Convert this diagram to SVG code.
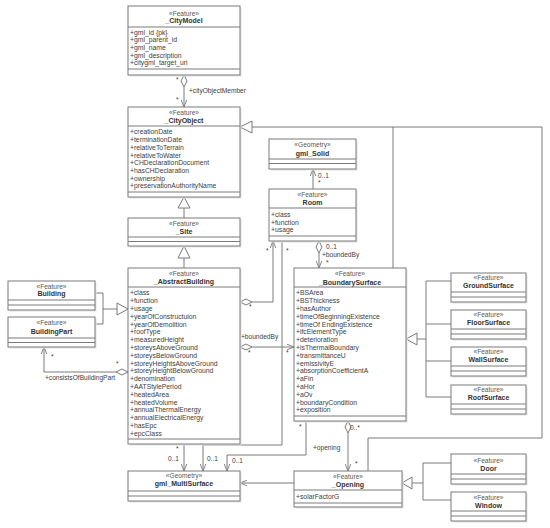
<svg xmlns="http://www.w3.org/2000/svg" width="550" height="528" viewBox="0 0 550 528">
<defs>
<style>
.bx{fill:#fff;stroke:#7a7a7a;stroke-width:1}
.sh{fill:#e4e4e4;stroke:none}
.dv{stroke:#7a7a7a;stroke-width:1}
.ln{fill:none;stroke:#7a7a7a;stroke-width:1}
.hd{fill:#fff;stroke:#7a7a7a;stroke-width:1}
text{font-family:"Liberation Sans",Arial,sans-serif;fill:#404040}
.st{font-size:6.6px;text-anchor:middle;fill:#595959}
.nm{font-size:7px;font-weight:bold;text-anchor:middle;fill:#333}
.at{font-size:6.8px}
.lb{font-size:6.6px}
</style>
<marker id="ar" viewBox="0 0 10 10" refX="10" refY="5" markerWidth="7" markerHeight="7" orient="auto" markerUnits="userSpaceOnUse">
<path d="M0,1 L10,5 L0,9" fill="none" stroke="#7a7a7a" stroke-width="1.3"/>
</marker>
</defs>
<rect width="550" height="528" fill="#fff"/>

<g id="connectors">
<polygon class="hd" points="184,75 187,81 184,87 181,81"/>
<line class="ln" x1="184" y1="87" x2="184" y2="107" marker-end="url(#ar)"/>
<text class="lb" x="176" y="82">*</text>
<text class="lb" x="189" y="93">+cityObjectMember</text>
<text class="lb" x="176" y="102">*</text>
<line class="ln" x1="184" y1="208" x2="184" y2="218"/>
<polygon class="hd" points="184,197 190,208 178,208"/>
<line class="ln" x1="184" y1="258" x2="184" y2="268"/>
<polygon class="hd" points="184,246 190,258 178,258"/>
<polyline class="ln" points="95,293 103,293 103,324 95,324"/>
<line class="ln" x1="103" y1="309" x2="117" y2="309"/>
<polygon class="hd" points="128,309 117,303 117,315"/>
<polygon class="hd" points="128,372 122,369 116,372 122,375"/>
<polyline class="ln" points="116,372 44,372 44,347" marker-end="url(#ar)"/>
<text class="lb" x="51" y="359">*</text>
<text class="lb" x="116" y="366">*</text>
<text class="lb" x="45" y="380">+consistsOfBuildingPart</text>
<polygon class="hd" points="240,302 246,299 252,302 246,305"/>
<polyline class="ln" points="252,302 273,302 273,241" marker-end="url(#ar)"/>
<text class="lb" x="249" y="309">*</text>
<text class="lb" x="266" y="253">*</text>
<polyline class="ln" points="282,241 282,445 203,445 203,471" marker-end="url(#ar)"/>
<text class="lb" x="286" y="253">*</text>
<text class="lb" x="207" y="461">0..1</text>
<polyline class="ln" points="306,421 306,455 227,455 227,471" marker-end="url(#ar)"/>
<text class="lb" x="299" y="429">*</text>
<text class="lb" x="232" y="463">0..1</text>
<line class="ln" x1="184" y1="444" x2="184" y2="471" marker-end="url(#ar)"/>
<text class="lb" x="176" y="451">*</text>
<text class="lb" x="168" y="461">0..1</text>
<polygon class="hd" points="240,347 246,344 252,347 246,350"/>
<line class="ln" x1="252" y1="347" x2="294" y2="347" marker-end="url(#ar)"/>
<text class="lb" x="241" y="339">+boundedBy</text>
<text class="lb" x="248" y="355">*</text>
<text class="lb" x="286" y="355">*</text>
<line class="ln" x1="313" y1="189" x2="313" y2="169" marker-end="url(#ar)"/>
<text class="lb" x="318" y="178">0..1</text>
<text class="lb" x="318" y="185">*</text>
<polygon class="hd" points="319,241 322,247 319,253 316,247"/>
<line class="ln" x1="319" y1="253" x2="319" y2="268" marker-end="url(#ar)"/>
<text class="lb" x="326" y="249">0..1</text>
<text class="lb" x="322" y="257">+boundedBy</text>
<text class="lb" x="326" y="265">*</text>
<line class="ln" x1="393" y1="268" x2="393" y2="127"/>
<line class="ln" x1="252" y1="127" x2="542" y2="127"/>
<polyline class="ln" points="368,471 368,438 542,438 542,127"/>
<polygon class="hd" points="240,127 252,121 252,133"/>
<polyline class="ln" points="451,281 426,281 426,397 451,397"/>
<line class="ln" x1="426" y1="324" x2="451" y2="324"/>
<line class="ln" x1="426" y1="361" x2="451" y2="361"/>
<line class="ln" x1="417" y1="339" x2="426" y2="339"/>
<polygon class="hd" points="406,339 417,333 417,345"/>
<polygon class="hd" points="348,421 351,427 348,433 345,427"/>
<line class="ln" x1="348" y1="433" x2="348" y2="471" marker-end="url(#ar)"/>
<text class="lb" x="350" y="430">0..*</text>
<text class="lb" x="313" y="450">+opening</text>
<text class="lb" x="355" y="466">*</text>
<line class="ln" x1="294" y1="483" x2="240" y2="483" marker-end="url(#ar)"/>
<polyline class="ln" points="451,463 423,463 423,500 451,500"/>
<line class="ln" x1="412" y1="483" x2="423" y2="483"/>
<polygon class="hd" points="402,483 412,477 412,489"/>
</g>

<g id="CityModel">
<rect class="sh" x="129.5" y="7.5" width="112" height="69"/>
<rect class="bx" x="128" y="6" width="112" height="69"/>
<text class="st" x="184" y="16">«Feature»</text>
<text class="nm" x="184" y="23">_CityModel</text>
<line class="dv" x1="128" y1="27" x2="240" y2="27"/>
<text class="at" x="130" y="34.5">+gml_id {pk}</text>
<text class="at" x="130" y="42.2">+gml_parent_id</text>
<text class="at" x="130" y="49.9">+gml_name</text>
<text class="at" x="130" y="57.6">+gml_description</text>
<text class="at" x="130" y="65.3">+citygml_target_uri</text>
<line class="dv" x1="128" y1="69" x2="240" y2="69"/>
</g>

<g id="CityObject">
<rect class="sh" x="129.5" y="108.5" width="112" height="90"/>
<rect class="bx" x="128" y="107" width="112" height="90"/>
<text class="st" x="184" y="115">«Feature»</text>
<text class="nm" x="184" y="122.5">_CityObject</text>
<line class="dv" x1="128" y1="126" x2="240" y2="126"/>
<text class="at" x="130" y="134.4">+creationDate</text>
<text class="at" x="130" y="142.1">+terminationDate</text>
<text class="at" x="130" y="149.8">+relativeToTerrain</text>
<text class="at" x="130" y="157.5">+relativeToWater</text>
<text class="at" x="130" y="165.2">+CHDeclarationDocument</text>
<text class="at" x="130" y="172.9">+hasCHDeclaration</text>
<text class="at" x="130" y="180.6">+ownership</text>
<text class="at" x="130" y="188.3">+preservationAuthorityName</text>
<line class="dv" x1="128" y1="192" x2="240" y2="192"/>
</g>

<g id="Site">
<rect class="sh" x="129.5" y="219.5" width="112" height="28"/>
<rect class="bx" x="128" y="218" width="112" height="28"/>
<text class="st" x="184" y="226">«Feature»</text>
<text class="nm" x="184" y="233.5">_Site</text>
<line class="dv" x1="128" y1="237" x2="240" y2="237"/>
<line class="dv" x1="128" y1="241.5" x2="240" y2="241.5"/>
</g>

<g id="AbstractBuilding">
<rect class="sh" x="129.5" y="269.5" width="112" height="176"/>
<rect class="bx" x="128" y="268" width="112" height="176"/>
<text class="st" x="184" y="276">«Feature»</text>
<text class="nm" x="184" y="283.5">_AbstractBuilding</text>
<line class="dv" x1="128" y1="287" x2="240" y2="287"/>
<text class="at" x="130" y="295.4">+class</text>
<text class="at" x="130" y="303.2">+function</text>
<text class="at" x="130" y="311">+usage</text>
<text class="at" x="130" y="318.8">+yearOfConstructuion</text>
<text class="at" x="130" y="326.6">+yearOfDemolition</text>
<text class="at" x="130" y="334.4">+roofType</text>
<text class="at" x="130" y="342.2">+measuredHeight</text>
<text class="at" x="130" y="350">+storeysAboveGround</text>
<text class="at" x="130" y="357.8">+storeysBelowGround</text>
<text class="at" x="130" y="365.6">+storeyHeightsAboveGround</text>
<text class="at" x="130" y="373.4">+storeyHeightBelowGround</text>
<text class="at" x="130" y="381.2">+denomination</text>
<text class="at" x="130" y="389">+AATStylePeriod</text>
<text class="at" x="130" y="396.8">+heatedArea</text>
<text class="at" x="130" y="404.6">+heatedVolume</text>
<text class="at" x="130" y="412.4">+annualThermalEnergy</text>
<text class="at" x="130" y="420.2">+annualElectricalEnergy</text>
<text class="at" x="130" y="428">+hasEpc</text>
<text class="at" x="130" y="435.8">+epcClass</text>
<line class="dv" x1="128" y1="439" x2="240" y2="439"/>
</g>

<g id="Building">
<rect class="sh" x="9.5" y="282.5" width="87" height="29"/>
<rect class="bx" x="8" y="281" width="87" height="29"/>
<text class="st" x="51.5" y="288.5">«Feature»</text>
<text class="nm" x="51.5" y="296">Building</text>
<line class="dv" x1="8" y1="300" x2="95" y2="300"/>
<line class="dv" x1="8" y1="305" x2="95" y2="305"/>
</g>

<g id="BuildingPart">
<rect class="sh" x="9.5" y="318.5" width="87" height="30"/>
<rect class="bx" x="8" y="317" width="87" height="30"/>
<text class="st" x="51.5" y="325">«Feature»</text>
<text class="nm" x="51.5" y="333.5">BuildingPart</text>
<line class="dv" x1="8" y1="338" x2="95" y2="338"/>
<line class="dv" x1="8" y1="342.5" x2="95" y2="342.5"/>
</g>

<g id="gml_Solid">
<rect class="sh" x="270.5" y="140.5" width="87" height="30"/>
<rect class="bx" x="269" y="139" width="87" height="30"/>
<text class="st" x="312.5" y="147">«Geometry»</text>
<text class="nm" x="312.5" y="155.5">gml_Solid</text>
<line class="dv" x1="269" y1="159" x2="356" y2="159"/>
<line class="dv" x1="269" y1="163.5" x2="356" y2="163.5"/>
</g>

<g id="Room">
<rect class="sh" x="270.5" y="190.5" width="87" height="52"/>
<rect class="bx" x="269" y="189" width="87" height="52"/>
<text class="st" x="312.5" y="197">«Feature»</text>
<text class="nm" x="312.5" y="205">Room</text>
<line class="dv" x1="269" y1="208" x2="356" y2="208"/>
<text class="at" x="271" y="217.2">+class</text>
<text class="at" x="271" y="224.7">+function</text>
<text class="at" x="271" y="232.2">+usage</text>
<line class="dv" x1="269" y1="236" x2="356" y2="236"/>
</g>

<g id="BoundarySurface">
<rect class="sh" x="295.5" y="269.5" width="112" height="153"/>
<rect class="bx" x="294" y="268" width="112" height="153"/>
<text class="st" x="350" y="276">«Feature»</text>
<text class="nm" x="350" y="284.5">_BoundarySurface</text>
<line class="dv" x1="294" y1="287" x2="406" y2="287"/>
<text class="at" x="296" y="295.4">+BSArea</text>
<text class="at" x="296" y="303.2">+BSThickness</text>
<text class="at" x="296" y="311">+hasAuthor</text>
<text class="at" x="296" y="318.8">+timeOfBeginningExistence</text>
<text class="at" x="296" y="326.6">+timeOf EndingExistence</text>
<text class="at" x="296" y="334.4">+ifcElementType</text>
<text class="at" x="296" y="342.2">+deterioration</text>
<text class="at" x="296" y="350">+isThermalBoundary</text>
<text class="at" x="296" y="357.8">+transmittanceU</text>
<text class="at" x="296" y="365.6">+emissivityE</text>
<text class="at" x="296" y="373.4">+absorptionCoefficientA</text>
<text class="at" x="296" y="381.2">+aFin</text>
<text class="at" x="296" y="389">+aHor</text>
<text class="at" x="296" y="396.8">+aOv</text>
<text class="at" x="296" y="404.6">+boundaryCondition</text>
<text class="at" x="296" y="412.4">+exposition</text>
<line class="dv" x1="294" y1="416" x2="406" y2="416"/>
</g>

<g id="GroundSurface">
<rect class="sh" x="452.5" y="274.5" width="75" height="29"/>
<rect class="bx" x="451" y="273" width="75" height="29"/>
<text class="st" x="488.5" y="279.5">«Feature»</text>
<text class="nm" x="488.5" y="287.5">GroundSurface</text>
<line class="dv" x1="451" y1="292" x2="526" y2="292"/>
<line class="dv" x1="451" y1="297" x2="526" y2="297"/>
</g>

<g id="FloorSurface">
<rect class="sh" x="452.5" y="311.5" width="75" height="29"/>
<rect class="bx" x="451" y="310" width="75" height="29"/>
<text class="st" x="488.5" y="316.5">«Feature»</text>
<text class="nm" x="488.5" y="324.5">FloorSurface</text>
<line class="dv" x1="451" y1="329" x2="526" y2="329"/>
<line class="dv" x1="451" y1="334" x2="526" y2="334"/>
</g>

<g id="WallSurface">
<rect class="sh" x="452.5" y="348.5" width="75" height="29"/>
<rect class="bx" x="451" y="347" width="75" height="29"/>
<text class="st" x="488.5" y="353.5">«Feature»</text>
<text class="nm" x="488.5" y="361.5">WallSurface</text>
<line class="dv" x1="451" y1="366" x2="526" y2="366"/>
<line class="dv" x1="451" y1="371" x2="526" y2="371"/>
</g>

<g id="RoofSurface">
<rect class="sh" x="452.5" y="386.5" width="75" height="29"/>
<rect class="bx" x="451" y="385" width="75" height="29"/>
<text class="st" x="488.5" y="391.5">«Feature»</text>
<text class="nm" x="488.5" y="399.5">RoofSurface</text>
<line class="dv" x1="451" y1="404" x2="526" y2="404"/>
<line class="dv" x1="451" y1="409" x2="526" y2="409"/>
</g>

<g id="MultiSurface">
<rect class="sh" x="129.5" y="472.5" width="112" height="30"/>
<rect class="bx" x="128" y="471" width="112" height="30"/>
<text class="st" x="184" y="477.5">«Geometry»</text>
<text class="nm" x="184" y="485.5">gml_MultiSurface</text>
<line class="dv" x1="128" y1="491" x2="240" y2="491"/>
<line class="dv" x1="128" y1="496" x2="240" y2="496"/>
</g>

<g id="Opening">
<rect class="sh" x="295.5" y="472.5" width="108" height="36"/>
<rect class="bx" x="294" y="471" width="108" height="36"/>
<text class="st" x="348" y="479">«Feature»</text>
<text class="nm" x="348" y="486.5">_Opening</text>
<line class="dv" x1="294" y1="490" x2="402" y2="490"/>
<text class="at" x="296" y="499.3">+solarFactorG</text>
<line class="dv" x1="294" y1="503" x2="402" y2="503"/>
</g>

<g id="Door">
<rect class="sh" x="452.5" y="455.5" width="75" height="30"/>
<rect class="bx" x="451" y="454" width="75" height="30"/>
<text class="st" x="488.5" y="462.5">«Feature»</text>
<text class="nm" x="488.5" y="470.5">Door</text>
<line class="dv" x1="451" y1="474" x2="526" y2="474"/>
<line class="dv" x1="451" y1="479" x2="526" y2="479"/>
</g>

<g id="Window">
<rect class="sh" x="452.5" y="493.5" width="75" height="29"/>
<rect class="bx" x="451" y="492" width="75" height="29"/>
<text class="st" x="488.5" y="499.5">«Feature»</text>
<text class="nm" x="488.5" y="507.5">Window</text>
<line class="dv" x1="451" y1="511" x2="526" y2="511"/>
<line class="dv" x1="451" y1="516" x2="526" y2="516"/>
</g>
</svg>
